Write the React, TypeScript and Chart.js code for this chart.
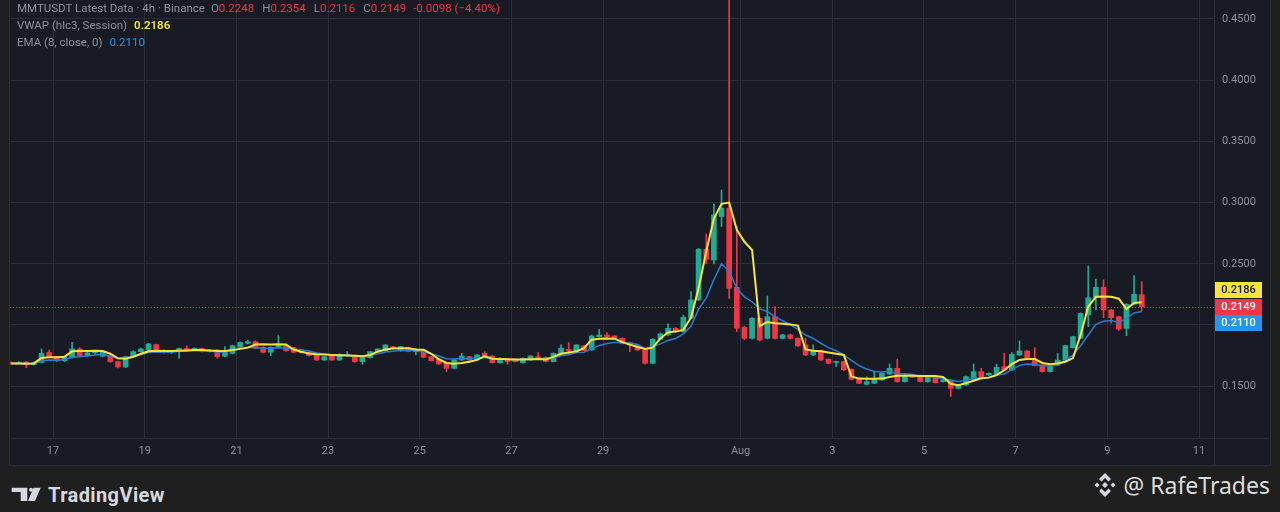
import { useEffect, useRef } from "react";
import { Chart, registerables } from "chart.js";

Chart.register(...registerables);

// ---- Data (4h candles, MMTUSDT, Jul 16 – Aug 9) ----
const opens = [
  0.1690, 0.1686, 0.1698, 0.1677, 0.1695, 0.1775, 0.1740, 0.1708, 0.1736, 0.1804,
  0.1750, 0.1772, 0.1745, 0.1750, 0.1700, 0.1657, 0.1741, 0.1782, 0.1795, 0.1840,
  0.1790, 0.1775, 0.1782, 0.1808, 0.1795, 0.1808, 0.1785, 0.1796, 0.1745, 0.1769,
  0.1818, 0.1850, 0.1864, 0.1818, 0.1777, 0.1818, 0.1831, 0.1815, 0.1777, 0.1777,
  0.1760, 0.1714, 0.1747, 0.1714, 0.1752, 0.1750, 0.1700, 0.1733, 0.1782, 0.1790,
  0.1823, 0.1790, 0.1815, 0.1782, 0.1790, 0.1741, 0.1720, 0.1687, 0.1646, 0.1714,
  0.1741, 0.1714, 0.1769, 0.1747, 0.1692, 0.1720, 0.1720, 0.1692, 0.1714, 0.1741,
  0.1736, 0.1701, 0.1763, 0.1800, 0.1782, 0.1829, 0.1796, 0.1905, 0.1918, 0.1910,
  0.1891, 0.1856, 0.1837, 0.1796, 0.1687, 0.1883, 0.1919, 0.1973, 0.1946, 0.2055,
  0.2205, 0.2619, 0.2531, 0.2886, 0.2954, 0.2308, 0.1981, 0.1891, 0.2055, 0.1891,
  0.2068, 0.1891, 0.1919, 0.1891, 0.1837, 0.1755, 0.1791, 0.1720, 0.1695, 0.1701,
  0.1638, 0.1564, 0.1515, 0.1524, 0.1551, 0.1600, 0.1646, 0.1537, 0.1592, 0.1585,
  0.1537, 0.1573, 0.1537, 0.1551, 0.1483, 0.1510, 0.1551, 0.1619, 0.1592, 0.1592,
  0.1660, 0.1632, 0.1755, 0.1788, 0.1722, 0.1673, 0.1619, 0.1673, 0.1714, 0.1815,
  0.1891, 0.2082, 0.2223, 0.2308, 0.2123, 0.2068, 0.1973, 0.2169, 0.2248,
];
const highs = [
  0.1700, 0.1702, 0.1702, 0.1700, 0.1804, 0.1795, 0.1745, 0.1745, 0.1858, 0.1815,
  0.1785, 0.1790, 0.1788, 0.1760, 0.1705, 0.1745, 0.1790, 0.1812, 0.1850, 0.1845,
  0.1798, 0.1790, 0.1812, 0.1830, 0.1815, 0.1812, 0.1800, 0.1800, 0.1823, 0.1835,
  0.1862, 0.1877, 0.1870, 0.1822, 0.1822, 0.1913, 0.1836, 0.1818, 0.1785, 0.1780,
  0.1765, 0.1745, 0.1752, 0.1765, 0.1782, 0.1755, 0.1745, 0.1785, 0.1806, 0.1840,
  0.1826, 0.1826, 0.1820, 0.1805, 0.1795, 0.1745, 0.1722, 0.1690, 0.1718, 0.1769,
  0.1745, 0.1758, 0.1782, 0.1750, 0.1732, 0.1725, 0.1724, 0.1732, 0.1750, 0.1774,
  0.1740, 0.1772, 0.1837, 0.1856, 0.1840, 0.1833, 0.1918, 0.1965, 0.1938, 0.1915,
  0.1895, 0.1860, 0.1840, 0.1800, 0.1890, 0.1935, 0.2009, 0.1980, 0.2082, 0.2273,
  0.2625, 0.2744, 0.2989, 0.3103, 0.4800, 0.2804, 0.1990, 0.2060, 0.2060, 0.2237,
  0.2150, 0.1925, 0.1925, 0.1895, 0.1891, 0.1837, 0.1795, 0.1724, 0.1706, 0.1705,
  0.1642, 0.1568, 0.1578, 0.1619, 0.1610, 0.1681, 0.1720, 0.1596, 0.1596, 0.1590,
  0.1578, 0.1577, 0.1556, 0.1555, 0.1515, 0.1582, 0.1681, 0.1646, 0.1610, 0.1681,
  0.1769, 0.1775, 0.1869, 0.1792, 0.1815, 0.1677, 0.1677, 0.1769, 0.1835, 0.1910,
  0.2100, 0.2482, 0.2376, 0.2370, 0.2127, 0.2072, 0.2175, 0.2403, 0.2354,
];
const lows = [
  0.1680, 0.1682, 0.1651, 0.1672, 0.1690, 0.1735, 0.1700, 0.1700, 0.1730, 0.1745,
  0.1745, 0.1760, 0.1740, 0.1695, 0.1650, 0.1652, 0.1735, 0.1778, 0.1790, 0.1785,
  0.1770, 0.1768, 0.1728, 0.1795, 0.1790, 0.1780, 0.1778, 0.1728, 0.1740, 0.1765,
  0.1812, 0.1845, 0.1805, 0.1772, 0.1750, 0.1812, 0.1785, 0.1772, 0.1770, 0.1745,
  0.1710, 0.1710, 0.1710, 0.1710, 0.1748, 0.1695, 0.1679, 0.1730, 0.1778, 0.1785,
  0.1805, 0.1785, 0.1780, 0.1755, 0.1732, 0.1705, 0.1678, 0.1619, 0.1642, 0.1710,
  0.1710, 0.1710, 0.1745, 0.1688, 0.1688, 0.1679, 0.1698, 0.1688, 0.1710, 0.1718,
  0.1698, 0.1698, 0.1760, 0.1763, 0.1778, 0.1790, 0.1792, 0.1900, 0.1891, 0.1885,
  0.1846, 0.1782, 0.1790, 0.1680, 0.1683, 0.1878, 0.1915, 0.1940, 0.1940, 0.2050,
  0.2200, 0.2500, 0.2499, 0.2804, 0.2218, 0.1946, 0.1880, 0.1885, 0.1870, 0.1885,
  0.1885, 0.1885, 0.1885, 0.1825, 0.1750, 0.1750, 0.1710, 0.1683, 0.1660, 0.1628,
  0.1552, 0.1520, 0.1510, 0.1520, 0.1548, 0.1596, 0.1533, 0.1533, 0.1570, 0.1535,
  0.1533, 0.1525, 0.1532, 0.1415, 0.1478, 0.1505, 0.1547, 0.1560, 0.1588, 0.1588,
  0.1628, 0.1628, 0.1750, 0.1718, 0.1664, 0.1615, 0.1615, 0.1669, 0.1710, 0.1810,
  0.1887, 0.1987, 0.2123, 0.2060, 0.2014, 0.1955, 0.1913, 0.2165, 0.2116,
];
const closes = [
  0.1686, 0.1695, 0.1677, 0.1695, 0.1769, 0.1740, 0.1708, 0.1736, 0.1804, 0.1750,
  0.1772, 0.1782, 0.1782, 0.1700, 0.1657, 0.1741, 0.1782, 0.1804, 0.1845, 0.1790,
  0.1775, 0.1782, 0.1808, 0.1800, 0.1808, 0.1785, 0.1792, 0.1741, 0.1785, 0.1831,
  0.1858, 0.1864, 0.1809, 0.1777, 0.1818, 0.1831, 0.1790, 0.1777, 0.1780, 0.1750,
  0.1714, 0.1741, 0.1714, 0.1760, 0.1758, 0.1700, 0.1741, 0.1782, 0.1804, 0.1837,
  0.1809, 0.1823, 0.1785, 0.1801, 0.1736, 0.1709, 0.1682, 0.1646, 0.1714, 0.1747,
  0.1714, 0.1755, 0.1747, 0.1692, 0.1728, 0.1701, 0.1701, 0.1728, 0.1747, 0.1720,
  0.1701, 0.1769, 0.1810, 0.1788, 0.1837, 0.1790, 0.1910, 0.1918, 0.1905, 0.1891,
  0.1850, 0.1837, 0.1796, 0.1687, 0.1883, 0.1927, 0.1973, 0.1946, 0.2063, 0.2205,
  0.2619, 0.2537, 0.2899, 0.2954, 0.2300, 0.1973, 0.1891, 0.2055, 0.1878, 0.2068,
  0.1891, 0.1919, 0.1891, 0.1829, 0.1755, 0.1791, 0.1714, 0.1687, 0.1701, 0.1633,
  0.1556, 0.1524, 0.1537, 0.1556, 0.1605, 0.1646, 0.1537, 0.1592, 0.1573, 0.1537,
  0.1573, 0.1529, 0.1551, 0.1483, 0.1510, 0.1578, 0.1619, 0.1564, 0.1605, 0.1654,
  0.1632, 0.1760, 0.1788, 0.1722, 0.1668, 0.1619, 0.1673, 0.1714, 0.1831, 0.1905,
  0.2095, 0.2223, 0.2308, 0.2123, 0.2060, 0.1967, 0.2169, 0.2251, 0.2149,
];
const vwapValues = [
  0.1685, 0.1685, 0.1684, 0.1686, 0.1730, 0.1736, 0.1736, 0.1740, 0.1785, 0.1788,
  0.1788, 0.1790, 0.1788, 0.1765, 0.1728, 0.1725, 0.1740, 0.1765, 0.1785, 0.1790,
  0.1788, 0.1788, 0.1790, 0.1792, 0.1795, 0.1795, 0.1792, 0.1788, 0.1788, 0.1795,
  0.1805, 0.1815, 0.1840, 0.1842, 0.1840, 0.1842, 0.1840, 0.1800, 0.1782, 0.1768,
  0.1762, 0.1758, 0.1755, 0.1752, 0.1750, 0.1748, 0.1745, 0.1755, 0.1782, 0.1800,
  0.1808, 0.1810, 0.1810, 0.1800, 0.1798, 0.1765, 0.1720, 0.1690, 0.1683, 0.1690,
  0.1700, 0.1715, 0.1745, 0.1725, 0.1722, 0.1720, 0.1718, 0.1718, 0.1720, 0.1722,
  0.1718, 0.1740, 0.1765, 0.1775, 0.1785, 0.1810, 0.1880, 0.1888, 0.1890, 0.1888,
  0.1860, 0.1840, 0.1820, 0.1805, 0.1815, 0.1890, 0.1940, 0.1946, 0.1960, 0.2060,
  0.2300, 0.2600, 0.2870, 0.2990, 0.3000, 0.2777, 0.2680, 0.2613, 0.1990, 0.2025,
  0.2015, 0.2010, 0.2005, 0.1995, 0.1800, 0.1790, 0.1785, 0.1775, 0.1765, 0.1755,
  0.1580, 0.1562, 0.1560, 0.1560, 0.1562, 0.1575, 0.1585, 0.1585, 0.1585, 0.1583,
  0.1583, 0.1583, 0.1575, 0.1520, 0.1508, 0.1525, 0.1545, 0.1565, 0.1570, 0.1590,
  0.1630, 0.1680, 0.1715, 0.1722, 0.1722, 0.1690, 0.1680, 0.1685, 0.1700, 0.1730,
  0.1918, 0.2150, 0.2230, 0.2232, 0.2230, 0.2215, 0.2130, 0.2180, 0.2186,
];
const emaValues = [
  0.1686, 0.1688, 0.1686, 0.1688, 0.1706, 0.1714, 0.1713, 0.1718, 0.1737, 0.1740,
  0.1747, 0.1755, 0.1761, 0.1747, 0.1727, 0.1730, 0.1742, 0.1756, 0.1776, 0.1779,
  0.1778, 0.1779, 0.1785, 0.1788, 0.1792, 0.1790, 0.1790, 0.1779, 0.1780, 0.1791,
  0.1806, 0.1819, 0.1817, 0.1808, 0.1810, 0.1815, 0.1809, 0.1802, 0.1797, 0.1787,
  0.1771, 0.1764, 0.1753, 0.1755, 0.1756, 0.1744, 0.1743, 0.1752, 0.1764, 0.1780,
  0.1786, 0.1794, 0.1792, 0.1794, 0.1781, 0.1765, 0.1747, 0.1725, 0.1723, 0.1728,
  0.1725, 0.1732, 0.1735, 0.1725, 0.1726, 0.1720, 0.1716, 0.1719, 0.1725, 0.1724,
  0.1719, 0.1730, 0.1748, 0.1757, 0.1775, 0.1778, 0.1807, 0.1832, 0.1848, 0.1858,
  0.1856, 0.1852, 0.1840, 0.1806, 0.1823, 0.1846, 0.1874, 0.1890, 0.1928, 0.1990,
  0.2130, 0.2220, 0.2371, 0.2500, 0.2440, 0.2300, 0.2230, 0.2190, 0.2132, 0.2110,
  0.2068, 0.2035, 0.2003, 0.1964, 0.1918, 0.1890, 0.1851, 0.1815, 0.1790, 0.1755,
  0.1711, 0.1669, 0.1640, 0.1621, 0.1617, 0.1623, 0.1604, 0.1601, 0.1595, 0.1582,
  0.1580, 0.1569, 0.1565, 0.1547, 0.1539, 0.1548, 0.1564, 0.1564, 0.1573, 0.1591,
  0.1600, 0.1636, 0.1670, 0.1682, 0.1679, 0.1666, 0.1668, 0.1678, 0.1712, 0.1755,
  0.1831, 0.1918, 0.2005, 0.2031, 0.2037, 0.2021, 0.2054, 0.2098, 0.2110,
];

// time axis: day boundaries expressed in candle units (6 candles per day)
const dayTickLabels = ["17", "19", "21", "23", "25", "27", "29", "Aug", "3", "5", "7", "9", "11"];
const dayTickPositions = [5.5, 17.5, 29.5, 41.5, 53.5, 65.5, 77.5, 95.5, 107.5, 119.5, 131.5, 143.5, 155.5];
const priceTicks = [0.15, 0.2, 0.25, 0.3, 0.35, 0.4, 0.45];
const hiddenPriceTick = 0.2;

const symbolTitle = "MMTUSDT Latest Data · 4h · Binance";
const changeText = "-0.0098 (−4.40%)";
const vwapTitle = "VWAP (hlc3, Session)";
const emaTitle = "EMA (8, close, 0)";

const GREEN = "#22ab94";
const RED = "#f23645";
const YELLOW = "#f7e33c";
const BLUE = "#2196f3";
const GRID = "#2a2e39";
const BG = "#181b23";
const PAGE = "#1f1f1f";
const AXIS_TEXT = "#8e919a";

const last = closes.length - 1;

function zeroPadding(scale: any) {
  scale.paddingTop = 0;
  scale.paddingBottom = 0;
  scale.paddingLeft = 0;
  scale.paddingRight = 0;
}

export default function App() {
  const ref = useRef<HTMLCanvasElement | null>(null);

  useEffect(() => {
    if (!ref.current) return;
    const candleColors = closes.map((c, i) => (c >= opens[i] ? GREEN : RED));

    const extras = {
      id: "priceExtras",
      beforeDatasetsDraw(chart: any) {
        const { ctx, chartArea, scales } = chart;
        const py = Math.round(scales.y.getPixelForValue(closes[last])) + 0.5;
        ctx.save();
        ctx.strokeStyle = RED;
        ctx.lineWidth = 1;
        ctx.setLineDash([1, 2]);
        ctx.beginPath();
        ctx.moveTo(chartArea.left, py);
        ctx.lineTo(chartArea.right, py);
        ctx.stroke();
        ctx.restore();
      },
      afterDraw(chart: any) {
        const { ctx, chartArea, scales, width, height } = chart;
        ctx.save();
        ctx.strokeStyle = GRID;
        ctx.lineWidth = 1;
        ctx.beginPath();
        ctx.moveTo(chartArea.right + 0.5, 0);
        ctx.lineTo(chartArea.right + 0.5, height);
        ctx.moveTo(0, chartArea.bottom + 0.5);
        ctx.lineTo(width, chartArea.bottom + 0.5);
        ctx.stroke();

        const y = scales.y;
        const redY = y.getPixelForValue(closes[last]);
        const yelY = Math.min(y.getPixelForValue(vwapValues[last]), redY - 16.5);
        const bluY = Math.max(y.getPixelForValue(emaValues[last]), redY + 16.5);
        const boxes: [number, string, string, number][] = [
          [yelY, YELLOW, "#131722", vwapValues[last]],
          [redY, RED, "#ffffff", closes[last]],
          [bluY, BLUE, "#ffffff", emaValues[last]],
        ];
        ctx.font = "500 11px Roboto";
        ctx.textAlign = "center";
        ctx.textBaseline = "middle";
        for (const [cy, bg, fg, v] of boxes) {
          ctx.fillStyle = bg;
          ctx.fillRect(chartArea.right + 1, Math.round(cy - 8), 47, 16);
          ctx.fillStyle = fg;
          ctx.fillText(v.toFixed(4), chartArea.right + 24.5, Math.round(cy) + 0.5);
        }
        ctx.restore();
      },
    };

    const chart = new Chart(ref.current, {
      type: "bar",
      data: {
        datasets: [
          {
            type: "line",
            label: "VWAP",
            data: vwapValues.map((v, i) => ({ x: i, y: v })),
            borderColor: YELLOW,
            borderWidth: 2,
            pointRadius: 0,
            tension: 0,
            order: 0,
          } as any,
          {
            type: "line",
            label: "EMA",
            data: emaValues.map((v, i) => ({ x: i, y: v })),
            borderColor: "#2a7bd4",
            borderWidth: 1.5,
            pointRadius: 0,
            tension: 0,
            order: 1,
          } as any,
          {
            type: "bar",
            label: "body",
            data: opens.map((o, i) => ({ x: i, y: [o, closes[i]] })),
            backgroundColor: candleColors,
            barThickness: 5,
            minBarLength: 1,
            grouped: false,
            order: 2,
          } as any,
          {
            type: "bar",
            label: "wick",
            data: lows.map((l, i) => ({ x: i, y: [l, highs[i]] })),
            backgroundColor: candleColors,
            barThickness: 1,
            grouped: false,
            order: 3,
          } as any,
        ],
      },
      options: {
        animation: false,
        responsive: false,
        maintainAspectRatio: false,
        events: [],
        layout: { padding: 0 },
        plugins: { legend: { display: false }, tooltip: { enabled: false } },
        scales: {
          x: {
            type: "linear",
            offset: false,
            min: -0.13,
            max: 157.46,
            grid: { color: GRID, drawTicks: false, offset: false },
            border: { display: false },
            afterBuildTicks: (scale: any) => {
              scale.ticks = dayTickPositions.map((v) => ({ value: v }));
            },
            afterFit: (scale: any) => {
              scale.height = 27;
              zeroPadding(scale);
            },
            ticks: {
              autoSkip: false,
              maxRotation: 0,
              padding: 7,
              color: AXIS_TEXT,
              font: { family: "Roboto", size: 11 },
              callback: (_v: any, idx: number) => dayTickLabels[idx],
            },
          },
          y: {
            type: "linear",
            position: "right",
            min: 0.10768,
            max: 0.46552,
            grid: { color: GRID, drawTicks: false },
            border: { display: false },
            afterBuildTicks: (scale: any) => {
              scale.ticks = priceTicks.map((v) => ({ value: v }));
            },
            afterFit: (scale: any) => {
              scale.width = 56;
              zeroPadding(scale);
            },
            ticks: {
              padding: 8,
              color: AXIS_TEXT,
              font: { family: "Roboto", size: 11 },
              callback: (v: any) => (Math.abs(v - hiddenPriceTick) < 1e-9 ? "" : Number(v).toFixed(4)),
            },
          },
        },
      } as any,
      plugins: [extras],
    });
    return () => chart.destroy();
  }, []);

  const gray = "#8e919a";
  return (
    <div style={{ position: "absolute", left: 0, top: 0, width: 1280, height: 512, background: PAGE, overflow: "hidden" }}>
      <div
        style={{
          position: "absolute",
          left: 9,
          top: 0,
          width: 1262,
          height: 466,
          boxSizing: "border-box",
          borderLeft: `1px solid ${GRID}`,
          borderRight: `1px solid ${GRID}`,
          borderBottom: `1px solid ${GRID}`,
          background: BG,
        }}
      >
        <canvas ref={ref} width={1260} height={465} style={{ display: "block", width: 1260, height: 465 }} />
        <div
          style={{
            position: "absolute",
            left: 7,
            top: 0,
            fontFamily: "Roboto, sans-serif",
            fontSize: 11.5,
            lineHeight: "17px",
            color: gray,
            whiteSpace: "nowrap",
          }}
        >
          <div>
            <span>{symbolTitle}</span>
            <span style={{ marginLeft: 6 }}>
              O<span style={{ color: RED }}>{opens[last].toFixed(4)}</span>
            </span>
            <span style={{ marginLeft: 8 }}>
              H<span style={{ color: RED }}>{highs[last].toFixed(4)}</span>
            </span>
            <span style={{ marginLeft: 8 }}>
              L<span style={{ color: RED }}>{lows[last].toFixed(4)}</span>
            </span>
            <span style={{ marginLeft: 8 }}>
              C<span style={{ color: RED }}>{closes[last].toFixed(4)}</span>
            </span>
            <span style={{ marginLeft: 7, color: RED }}>{changeText}</span>
          </div>
          <div>
            <span>{vwapTitle}</span>
            <span style={{ marginLeft: 7, color: YELLOW, fontWeight: 600 }}>{vwapValues[last].toFixed(4)}</span>
          </div>
          <div>
            <span>{emaTitle}</span>
            <span style={{ marginLeft: 7, color: BLUE }}>{emaValues[last].toFixed(4)}</span>
          </div>
        </div>
      </div>

      <div style={{ position: "absolute", left: 11, top: 485, display: "flex", alignItems: "center" }}>
        <svg width="30" height="16" viewBox="0 0 30 16">
          <path d="M0.7 0.7 H16.3 V14 H9.7 V5 H0.7 Z" fill="#d6d8de" />
          <circle cx="20" cy="2.7" r="2" fill="#d6d8de" />
          <path d="M22.5 0.7 H29.7 L24 14 H17 Z" fill="#d6d8de" />
        </svg>
        <span
          style={{
            marginLeft: 7,
            fontFamily: "Roboto, sans-serif",
            fontWeight: 700,
            fontSize: 20,
            color: "#d6d8de",
            letterSpacing: 0.4,
            lineHeight: "20px",
          }}
        >
          TradingView
        </span>
      </div>

      <div style={{ position: "absolute", right: 10, top: 471, display: "flex", alignItems: "center" }}>
        <svg width="28" height="28" viewBox="0 0 28 28">
          <path d="M14 2 L20 8 L17.5 10.5 L14 7 L10.5 10.5 L8 8 Z" fill="#d6d8de" />
          <path d="M14 26 L20 20 L17.5 17.5 L14 21 L10.5 17.5 L8 20 Z" fill="#d6d8de" />
          <path d="M14 11 L17 14 L14 17 L11 14 Z" fill="#d6d8de" />
          <path d="M3.5 14 L6 11.5 L8.5 14 L6 16.5 Z" fill="#d6d8de" />
          <path d="M24.5 14 L22 11.5 L19.5 14 L22 16.5 Z" fill="#d6d8de" />
        </svg>
        <span
          style={{
            marginLeft: 5,
            fontFamily: "'Noto Sans', sans-serif",
            fontSize: 23,
            color: "#dcdcdc",
            lineHeight: "28px",
          }}
        >
          @ RafeTrades
        </span>
      </div>
    </div>
  );
}
